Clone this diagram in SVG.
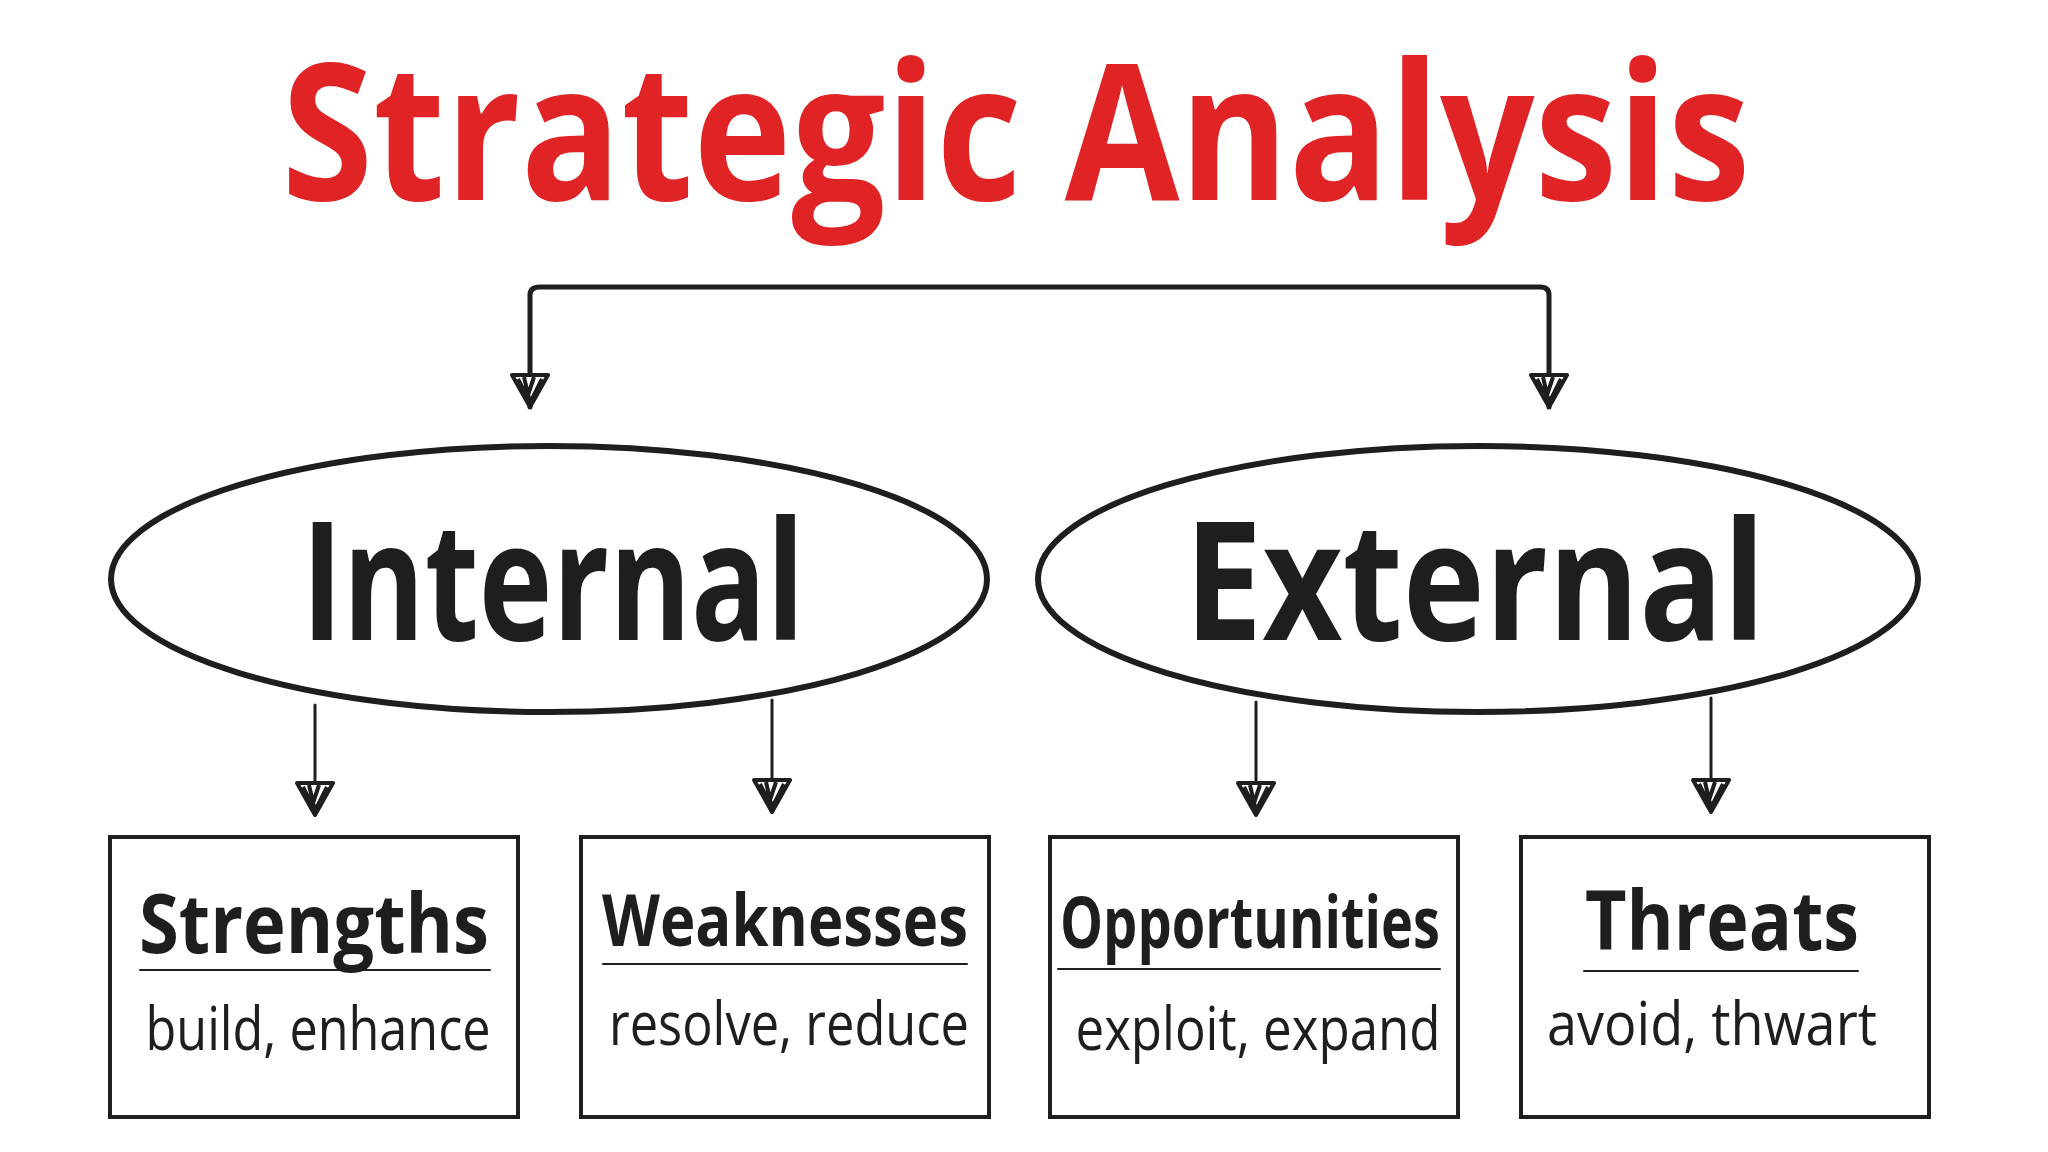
<svg xmlns="http://www.w3.org/2000/svg" width="2048" height="1152" viewBox="0 0 2048 1152">
<defs>
<style>
.t{font-family:"Open Sans","Liberation Sans",sans-serif;fill:#1e1e1e;text-anchor:middle}
.ln{stroke:#1e1e1e;fill:none;stroke-linecap:round}
.box{fill:#fff;stroke:#1e1e1e;stroke-width:4}
</style>
<marker id="ah" viewBox="0 0 20 20" refX="18" refY="10" markerWidth="40" markerHeight="40" markerUnits="userSpaceOnUse" orient="auto-start-reverse">
<path d="M2,1 L2,19 L18,10 Z M4,4 L16,10 M3,8 L15,12 M3,13 L16,10 M4,16 L14,11" fill="#fff" stroke="#1e1e1e" stroke-width="2" stroke-linejoin="round"/>
</marker>
</defs>
<rect width="2048" height="1152" fill="#fff"/>
<text x="1016" y="200" textLength="1469" lengthAdjust="spacingAndGlyphs" style="font-family:'Open Sans','Liberation Sans',sans-serif;font-weight:bold;font-size:190px;fill:#e02425;text-anchor:middle">Strategic Analysis</text>
<g id="connectors">
<path class="ln" stroke-width="5" d="M530,407 L530,295 Q530,287 540,287 L1540,287 Q1549,287 1549,295 L1549,407" marker-start="url(#ah)" marker-end="url(#ah)"/>
<path class="ln" stroke-width="3" d="M315,705 L315,815" marker-end="url(#ah)"/>
<path class="ln" stroke-width="3" d="M772,700 L772,812" marker-end="url(#ah)"/>
<path class="ln" stroke-width="3" d="M1256,702 L1256,815" marker-end="url(#ah)"/>
<path class="ln" stroke-width="3" d="M1711,698 L1711,812" marker-end="url(#ah)"/>
</g>
<g id="internal">
<ellipse cx="549" cy="579" rx="438" ry="133" fill="#fff" stroke="#1e1e1e" stroke-width="6"/>
<text class="t" x="553" y="640" font-size="165" font-weight="bold" textLength="503" lengthAdjust="spacingAndGlyphs">Internal</text>
</g>
<g id="external">
<ellipse cx="1478" cy="579" rx="440" ry="133" fill="#fff" stroke="#1e1e1e" stroke-width="6"/>
<text class="t" x="1475" y="640" font-size="165" font-weight="bold" textLength="581" lengthAdjust="spacingAndGlyphs">External</text>
</g>
<g id="strengths">
<rect class="box" x="110" y="837" width="408" height="280"/>
<text class="t" x="314" y="953" font-size="82" font-weight="bold" textLength="350" lengthAdjust="spacingAndGlyphs">Strengths</text>
<line class="ln" stroke-width="2" x1="140" y1="970" x2="490" y2="970"/>
<text class="t" x="318" y="1050" font-size="60" textLength="345" lengthAdjust="spacingAndGlyphs">build, enhance</text>
</g>
<g id="weaknesses">
<rect class="box" x="581" y="837" width="408" height="280"/>
<text class="t" x="785" y="946" font-size="72" font-weight="bold" textLength="366" lengthAdjust="spacingAndGlyphs">Weaknesses</text>
<line class="ln" stroke-width="2" x1="603" y1="964" x2="967" y2="964"/>
<text class="t" x="789" y="1045" font-size="60" textLength="360" lengthAdjust="spacingAndGlyphs">resolve, reduce</text>
</g>
<g id="opportunities">
<rect class="box" x="1050" y="837" width="408" height="280"/>
<text class="t" x="1250" y="948" font-size="72" font-weight="bold" textLength="380" lengthAdjust="spacingAndGlyphs">Opportunities</text>
<line class="ln" stroke-width="2" x1="1058" y1="969" x2="1440" y2="969"/>
<text class="t" x="1258" y="1050" font-size="60" textLength="365" lengthAdjust="spacingAndGlyphs">exploit, expand</text>
</g>
<g id="threats">
<rect class="box" x="1521" y="837" width="408" height="280"/>
<text class="t" x="1722" y="950" font-size="82" font-weight="bold" textLength="274" lengthAdjust="spacingAndGlyphs">Threats</text>
<line class="ln" stroke-width="2" x1="1584" y1="971" x2="1858" y2="971"/>
<text class="t" x="1712" y="1045" font-size="60" textLength="330" lengthAdjust="spacingAndGlyphs">avoid, thwart</text>
</g>
</svg>
